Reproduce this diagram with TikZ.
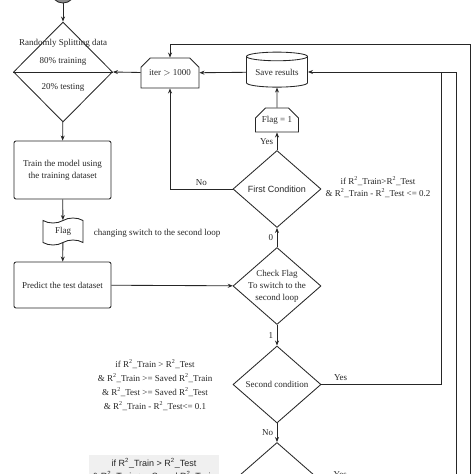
\documentclass[tikz,border=0pt]{standalone}
\usepackage{fontspec}
\setmainfont{Liberation Serif}
\newfontfamily\arialfont{Liberation Sans}
\usetikzlibrary{arrows.meta,positioning,shapes.geometric,shapes.misc,shapes.symbols}
\newcommand{\Rsq}{R\textsuperscript{2}}

\begin{document}
\begin{tikzpicture}[
  x=1pt, y=-1pt,
  font=\fontsize{9}{12}\selectfont,
  line width=0.85pt, color=black!85,
  proc/.style={draw, rounded corners=2pt, minimum width=97pt, align=center},
  decision/.style={diamond, draw, minimum width=88pt, minimum height=77pt, inner sep=0pt},
  loopbox/.style={chamfered rectangle, chamfered rectangle corners={north west,north east}, chamfered rectangle xsep=5pt, chamfered rectangle ysep=5pt, draw, inner sep=1pt},
  arr/.style={-{Stealth[length=5pt,width=4pt]}},
]
  \useasboundingbox (0,0) rectangle (474,474);
  \clip (0,0) rectangle (474,474);

  % left column
  \node[rounded rectangle, draw, fill=black!45, minimum width=20pt, minimum height=24pt] (start) at (63,-9) {};
  \node[decision, minimum width=99pt, minimum height=100pt] (split) at (63,72) {};
  \draw (split.west) -- (split.east);
  \node (splittop) at (63,43) {Randomly Splitting data};
  \node (splittrain) at (63,61) {80\% training};
  \node (splittest) at (63,87) {20\% testing};
  \node[proc, minimum height=58pt] (train) at (62.5,170) {Train the model using\\the training dataset};
  \node[tape, draw, minimum width=40pt, minimum height=27pt, tape bend height=5pt] (flag) at (63,231.5) {Flag};
  \node[anchor=west] (flagnote) at (90,233) {changing switch to the second loop};
  \node[proc, minimum height=46pt] (predict) at (62.5,285) {Predict the test dataset};

  % loop column
  \node[loopbox, minimum width=58pt, minimum height=30pt] (iter) at (170,73) {iter $>$ 1000};
  \node[cylinder, shape border rotate=90, draw, aspect=0.2, minimum width=61pt, minimum height=35pt, inner sep=0pt] (save) at (277,72) {Save results};
  \node[loopbox, minimum width=43pt, minimum height=24pt] (flagone) at (277,120) {Flag = 1};
  \node[decision] (first) at (277,189) {};
  \node[font=\arialfont\fontsize{9}{12}\selectfont] (firsttxt) at (first) {First Condition};
  \node[align=center] (firstcond) at (378,187) {if \Rsq\_Train>\Rsq\_Test\\\& \Rsq\_Train - \Rsq\_Test <= 0.2};
  \node[decision] (chk) at (277,286) {};
  \node[align=center] (chktxt) at (chk) {Check Flag\\To switch to the\\second loop};
  \node[decision] (second) at (277,384.5) {};
  \node (secondtxt) at (second) {Second condition};
  \node[align=center, font=\fontsize{9}{14}\selectfont] (secondcond) at (155,385) {if \Rsq\_Train > \Rsq\_Test\\\& \Rsq\_Train >= Saved \Rsq\_Train\\\& \Rsq\_Test >= Saved \Rsq\_Test\\\& \Rsq\_Train - \Rsq\_Test<= 0.1};
  \node[decision] (third) at (277,481) {};
  \node[align=center, fill=black!6, font=\arialfont\fontsize{9}{13}\selectfont, anchor=north] (thirdcond) at (154,455) {if \Rsq\_Train > \Rsq\_Test\\\& \Rsq\_Train >= Saved \Rsq\_Train};

  \coordinate (j1) at (441,72);
  \coordinate (r2) at (456,481);
  \coordinate (r3) at (470,490);
  \coordinate (tl) at (170,44);

  % connectors
  \draw[arr] (start) -- (split);
  \draw[arr] (split) -- (train);
  \draw[arr] (train) -- (flag);
  \draw[arr] (flag) -- (predict);
  \draw[arr] (predict) -- (chk);
  \draw[arr] (chk) -- node[left]{0} (first);
  \draw[arr] (first) -- node[left]{Yes} (flagone);
  \draw[arr] (flagone) -- (save);
  \draw[arr] (save) -- (iter);
  \draw[arr] (iter) -- (split.east);
  \draw[arr] (first.west) -| node[pos=0.25, above]{No} (iter.south);
  \draw[arr] (chk) -- node[left]{1} (second);
  \draw[arr] (second) -- node[left]{No} (third);
  \draw (second.east) -| node[pos=0.08, above]{Yes} (j1);
  \draw (third.east) -- node[pos=0.14, above]{Yes} (r2);
  \draw[arr] (r2) |- (save.east);
  \draw[arr] (r3) |- (tl) -- (iter.north);
\end{tikzpicture}
\end{document}
